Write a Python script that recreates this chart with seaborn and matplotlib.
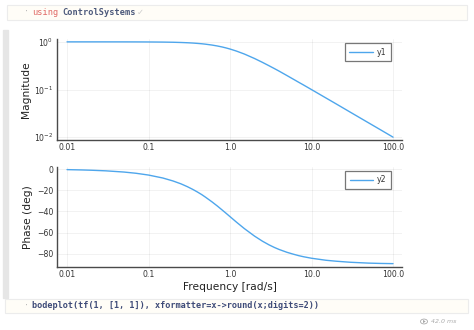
import matplotlib
matplotlib.use("Agg")
import matplotlib.pyplot as plt
import seaborn as sns
import pandas as pd
from matplotlib.patches import Rectangle, Polygon

# ---- data ----
freq = [0.01, 0.015, 0.02, 0.03, 0.05, 0.07, 0.1, 0.15, 0.2, 0.25, 0.3, 0.35, 0.4,
        0.45, 0.5, 0.6, 0.7, 0.8, 0.9, 1.0, 1.2, 1.5, 2.0, 2.5, 3.0, 3.5, 4.0, 5.0,
        6.0, 7.0, 8.0, 10.0, 15.0, 20.0, 30.0, 50.0, 70.0, 100.0]
magnitude = [1.0, 0.9999, 0.9998, 0.9996, 0.9988, 0.9976, 0.995, 0.989, 0.981, 0.970,
             0.958, 0.944, 0.928, 0.912, 0.894, 0.857, 0.819, 0.781, 0.743, 0.707,
             0.640, 0.555, 0.447, 0.371, 0.316, 0.275, 0.243, 0.196, 0.164, 0.141,
             0.124, 0.0995, 0.0665, 0.050, 0.0333, 0.020, 0.0143, 0.010]
phase = [-0.57, -0.86, -1.15, -1.72, -2.86, -4.0, -5.7, -8.5, -11.3, -14.0, -16.7,
         -19.3, -21.8, -24.2, -26.6, -31.0, -35.0, -38.7, -42.0, -45.0, -50.2, -56.3,
         -63.4, -68.2, -71.6, -74.1, -76.0, -78.7, -80.5, -81.9, -82.9, -84.3, -86.2,
         -87.1, -88.1, -88.9, -89.2, -89.4]
xtick_vals = [0.01, 0.1, 1.0, 10.0, 100.0]
xtick_labels = ["0.01", "0.1", "1.0", "10.0", "100.0"]
mag_ticks = [0.01, 0.1, 1.0]
phase_ticks = [0, -20, -40, -60, -80]
series_names = ["y1", "y2"]

W, H = 474, 330
sns.set_style("white")
plt.rcParams["font.family"] = ["DejaVu Sans"]
fig = plt.figure(figsize=(W / 100, H / 100), dpi=100)
fig.patch.set_facecolor("white")

def fx(x):
    return x / W

def fy(y):
    return 1 - y / H

LINE = "#4ea6ec"
SPINE = "#4a4a4a"
TXT = "#333333"

# ---- notebook decorations ----
fig.patches.append(Rectangle((fx(3), fy(298)), fx(5), (298 - 30) / H,
                             transform=fig.transFigure, color="#e6e6e6", zorder=0))
fig.patches.append(Rectangle((fx(7), fy(20)), fx(460), 15 / H, transform=fig.transFigure,
                             facecolor="#fffdf7", edgecolor="#ececec", lw=0.8, zorder=0))
fig.patches.append(Rectangle((fx(5), fy(313)), fx(463), 14 / H, transform=fig.transFigure,
                             facecolor="#fffdf7", edgecolor="#ececec", lw=0.8, zorder=0))
fig.text(fx(24), fy(12.5), "·", color="#bbbbbb", fontsize=6, va="center", family="DejaVu Sans Mono")
fig.text(fx(32), fy(12.5), "using", color="#e06a66", fontsize=6.2, va="center",
         family="DejaVu Sans Mono")
fig.text(fx(62), fy(12.5), "ControlSystems", color="#4d5a7c", fontsize=6.2, va="center",
         family="DejaVu Sans Mono", fontweight="bold")
fig.text(fx(137), fy(12.5), "✓", color="#cccccc", fontsize=6, va="center")
fig.text(fx(24), fy(306), "·", color="#bbbbbb", fontsize=6, va="center", family="DejaVu Sans Mono")
fig.text(fx(32), fy(306), "bodeplot(tf(1, [1, 1]), xformatter=x->round(x;digits=2))",
         color="#3e4b78", fontsize=6.1, va="center", family="DejaVu Sans Mono", fontweight="bold")
# run-time indicator: circle with a small play triangle
fig.patches.append(plt.Circle((fx(424), fy(321.5)), 3.5 / W, transform=fig.transFigure,
                              fill=False, edgecolor="#aaaaaa", lw=0.6))
fig.patches.append(Polygon([(fx(423), fy(319.8)), (fx(423), fy(323.2)), (fx(425.7), fy(321.5))],
                           closed=True, transform=fig.transFigure, facecolor="#aaaaaa",
                           edgecolor="none"))
fig.text(fx(431), fy(321.5), "42.0 ms", color="#aaaaaa", fontsize=4.5, va="center",
         style="italic")

# ---- axes ----
ax1 = fig.add_axes([fx(57), fy(140), fx(345), 101 / H])
ax2 = fig.add_axes([fx(57), fy(266.5), fx(345), 99.7 / H])

df = pd.DataFrame({"freq": freq, "mag": magnitude, "phase": phase})
sns.lineplot(data=df, x="freq", y="mag", ax=ax1, color=LINE, lw=1.0, label=series_names[0])
sns.lineplot(data=df, x="freq", y="phase", ax=ax2, color=LINE, lw=1.0, label=series_names[1])

for ax in (ax1, ax2):
    ax.set_xscale("log")
    ax.set_xlim(10 ** -2.123, 10 ** 2.11)
    ax.set_xticks(xtick_vals)
    ax.set_xticklabels(xtick_labels)
    ax.minorticks_off()
    ax.set_facecolor("white")
    for s in ("top", "right"):
        ax.spines[s].set_visible(False)
    for s in ("left", "bottom"):
        ax.spines[s].set_color(SPINE)
        ax.spines[s].set_linewidth(1.0)
    ax.tick_params(axis="both", which="major", direction="in", length=3, width=0.8,
                   color=SPINE, labelsize=5.6, labelcolor=TXT, pad=2.5)
    ax.tick_params(axis="both", which="minor", length=0)
    ax.grid(True, which="major", color="#000000", alpha=0.07, lw=0.5)
    ax.set_xlabel("")

ax1.set_yscale("log")
ax1.set_ylim(10 ** -2.06, 10 ** 0.06)
ax1.set_yticks(mag_ticks)
ax1.minorticks_off()
ax1.set_ylabel("Magnitude", fontsize=7.7, color="#222222", labelpad=2)

ax2.set_ylim(-92.1, 2.1)
ax2.set_yticks(phase_ticks)
ax2.set_ylabel("Phase (deg)", fontsize=7.7, color="#222222", labelpad=3)
ax2.set_xlabel("Frequency [rad/s]", fontsize=7.7, color="#222222", labelpad=2)

for ax in (ax1, ax2):
    leg = ax.legend(loc="upper right", bbox_to_anchor=(1 - 11 / 345, 1 - 4 / 100),
                    borderaxespad=0, fontsize=5.6, fancybox=False, frameon=True,
                    handlelength=3.0, handletextpad=0.5, borderpad=0.6)
    leg.get_frame().set_edgecolor("#555555")
    leg.get_frame().set_linewidth(0.9)
    for t in leg.get_texts():
        t.set_color(TXT)

fig.savefig("out.png", dpi=100, facecolor="white")
